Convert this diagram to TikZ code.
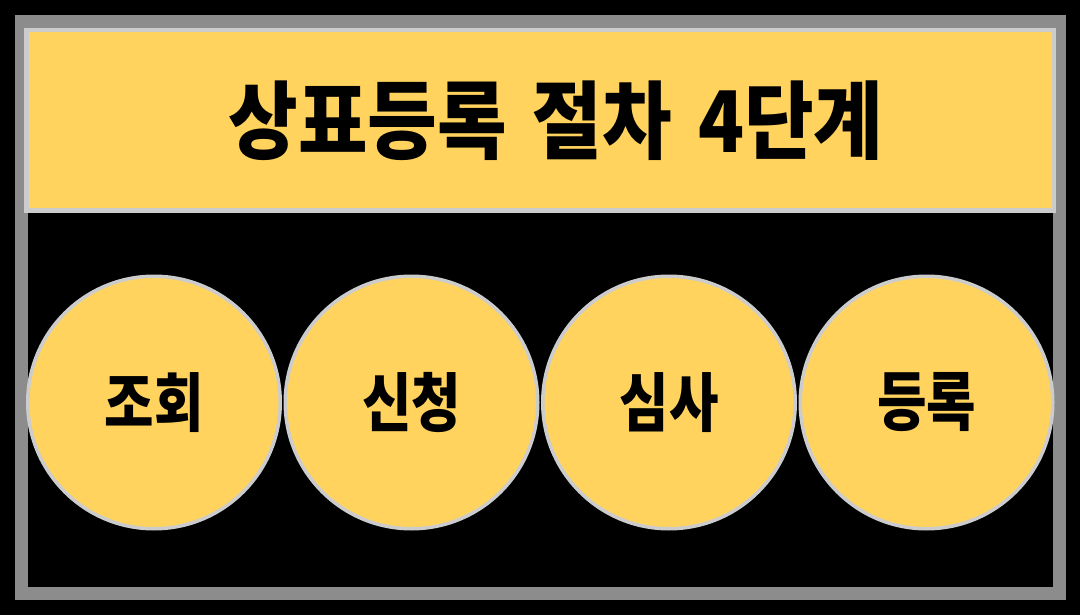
\documentclass[tikz,border=0pt]{standalone}
\usepackage{fontspec}
\usepackage{xcolor}
\usepackage{tikz}
\usetikzlibrary{positioning}
\newfontfamily\kofont{Noto Sans CJK KR}[FakeStretch=0.84]
\newfontfamily\kotitlefont{Noto Sans CJK KR}[FakeStretch=0.89, WordSpace=1.5]
\definecolor{stepyellow}{RGB}{255,211,94}
\definecolor{rimgray}{RGB}{204,204,204}
\definecolor{framegray}{RGB}{140,140,140}
\tikzset{
	x = 1pt,
	y = -1pt,
	frame/.style={
		draw=framegray,
		line width=13pt
	},
	title box/.style={
		draw=rimgray,
		fill=stepyellow,
		line width=4.5pt,
		minimum width=1027.5pt,
		minimum height=180.5pt,
		inner sep=0pt
	},
	heading/.style={
		inner sep=0pt,
		font=\kotitlefont\bfseries\fontsize{85}{85}\selectfont
	},
	stage/.style={
		circle,
		draw=rimgray,
		fill=stepyellow,
		line width=3.5pt,
		minimum size=252.5pt,
		inner sep=0pt,
		font=\kofont\bfseries\fontsize{64}{64}\selectfont
	}
}

\begin{document}
\begin{tikzpicture}
		\useasboundingbox[fill=black] (0,0) rectangle (1080,615);
		\draw[frame] (21.5,21.5) rectangle (1059,593.5);
		\node[title box] at (540,120.5) (title) {};
		\node[heading] at (556,121) (heading) {상표등록 절차 4단계};
		\node[stage] at (154,402.5) (lookup) {조회};
		\node[stage, right=1.5pt of lookup] (apply) {신청};
		\node[stage, right=1.5pt of apply] (review) {심사};
		\node[stage, right=1.5pt of review] (register) {등록};
	\end{tikzpicture}
\end{document}
